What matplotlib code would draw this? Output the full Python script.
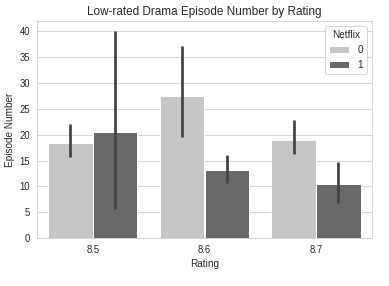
import numpy as np
import seaborn as sns
from matplotlib import pyplot as plt

ratings = ['8.5', '8.6', '8.7']
netflix = ['0', '1']
means = {'0': [18.4, 27.4, 19.0], '1': [20.5, 13.2, 10.5]}
ci_low = {'0': [15.7, 19.6, 16.2], '1': [5.7, 10.6, 6.8]}
ci_high = {'0': [22.0, 37.2, 22.9], '1': [40.1, 16.0, 14.7]}
colors = {'0': '#c6c6c6', '1': '#686868'}

sns.set_style('whitegrid')
plt.rcParams['font.family'] = ['Liberation Sans', 'DejaVu Sans']

fig = plt.figure(figsize=(389 / 72, 286 / 72), dpi=72)
ax = fig.add_axes([37 / 389, 1 - 238 / 286, 335 / 389, 217 / 286])

x = np.arange(len(ratings))
width = 0.4
for i, n in enumerate(netflix):
    pos = x - width / 2 + i * width
    ax.bar(pos, means[n], width=width, color=colors[n], label=n,
           edgecolor='white', linewidth=1)
    ax.vlines(pos, ci_low[n], ci_high[n], color='#424242', linewidth=2.7)

ax.grid(False, axis='x')
ax.set_xticks(x)
ax.set_xticklabels(ratings, fontsize=9.5)
ax.tick_params(axis='y', labelsize=9.5)
ax.set_xlim(-0.5, 2.5)
ax.set_ylim(0, 42)
ax.set_xlabel('Rating', fontsize=10)
ax.set_ylabel('Episode Number', fontsize=10)
ax.set_title('Low-rated Drama Episode Number by Rating', fontsize=11.8)
ax.legend(title='Netflix', fontsize=10, title_fontsize=10, loc='upper right')

fig.savefig('out.png', dpi=72)
